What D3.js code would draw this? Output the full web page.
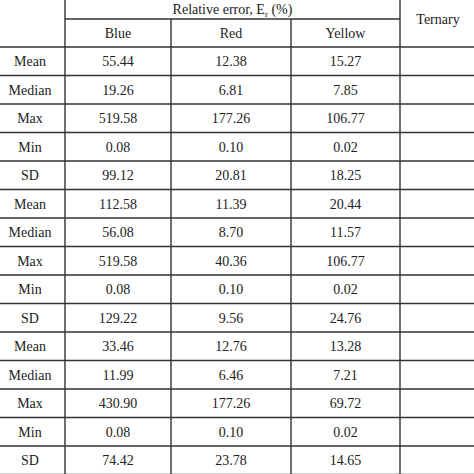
<!DOCTYPE html>
<html lang="en">
<head>
<meta charset="UTF-8">
<script src="https://cdn.jsdelivr.net/npm/d3@7"></script>
<style>
  body { margin: 0; background: #fff; }
  text { font-family: "Liberation Serif", "DejaVu Serif", serif; font-size: 14px; fill: #222; }
  line { stroke: #333; stroke-width: 1.4; }
</style>
</head>
<body>
<svg id="chart" width="474" height="474"></svg>
<script>
const stats = ["Mean", "Median", "Max", "Min", "SD"];
const columns = ["Blue", "Red", "Yellow"];
const blue = [55.44, 19.26, 519.58, 0.08, 99.12, 112.58, 56.08, 519.58, 0.08, 129.22, 33.46, 11.99, 430.90, 0.08, 74.42];
const red = [12.38, 6.81, 177.26, 0.10, 20.81, 11.39, 8.70, 40.36, 0.10, 9.56, 12.76, 6.46, 177.26, 0.10, 23.78];
const yellow = [15.27, 7.85, 106.77, 0.02, 18.25, 20.44, 11.57, 106.77, 0.02, 24.76, 13.28, 7.21, 69.72, 0.02, 14.65];

const rowLabels = d3.range(15).map(i => stats[i % 5]);
const series = [blue, red, yellow];

const svg = d3.select("#chart");
const colX = [65, 171, 291, 400]; // edges of value columns
const mid = j => (colX[j] + colX[j + 1]) / 2;
const y = d3.scaleLinear().domain([0, 15]).range([47, 474.5]);

// grid lines
svg.append("line").attr("x1", colX[0]).attr("x2", colX[3]).attr("y1", 19).attr("y2", 19);
[0, 3].forEach(i => svg.append("line").attr("x1", colX[i]).attr("x2", colX[i]).attr("y1", 0).attr("y2", 474));
[1, 2].forEach(i => svg.append("line").attr("x1", colX[i]).attr("x2", colX[i]).attr("y1", 19).attr("y2", 474));
d3.range(16).forEach(i => svg.append("line")
  .attr("x1", 0).attr("x2", 474).attr("y1", y(i)).attr("y2", y(i)));

// headers
const hdr = svg.append("text").attr("x", (colX[0] + colX[3]) / 2).attr("y", 14).attr("text-anchor", "middle");
hdr.append("tspan").text("Relative error, E");
hdr.append("tspan").attr("font-size", "9px").attr("dy", 3).text("r");
hdr.append("tspan").attr("dy", -3).text(" (%)");

svg.append("text").attr("x", 438).attr("y", 24).attr("text-anchor", "middle").text("Ternary");

svg.selectAll("text.col").data(columns).join("text").attr("class", "col")
  .attr("x", (d, j) => mid(j)).attr("y", 38).attr("text-anchor", "middle").text(d => d);

// rows
svg.selectAll("text.lab").data(rowLabels).join("text").attr("class", "lab")
  .attr("x", 30).attr("y", (d, i) => (y(i) + y(i + 1)) / 2 + 5)
  .attr("text-anchor", "middle").text(d => d);

series.forEach((s, j) => {
  svg.selectAll("text.v" + j).data(s).join("text").attr("class", "v" + j)
    .attr("x", mid(j))
    .attr("y", (d, i) => (y(i) + y(i + 1)) / 2 + 5)
    .attr("text-anchor", "middle").text(d => d.toFixed(2));
});
</script>
</body>
</html>
